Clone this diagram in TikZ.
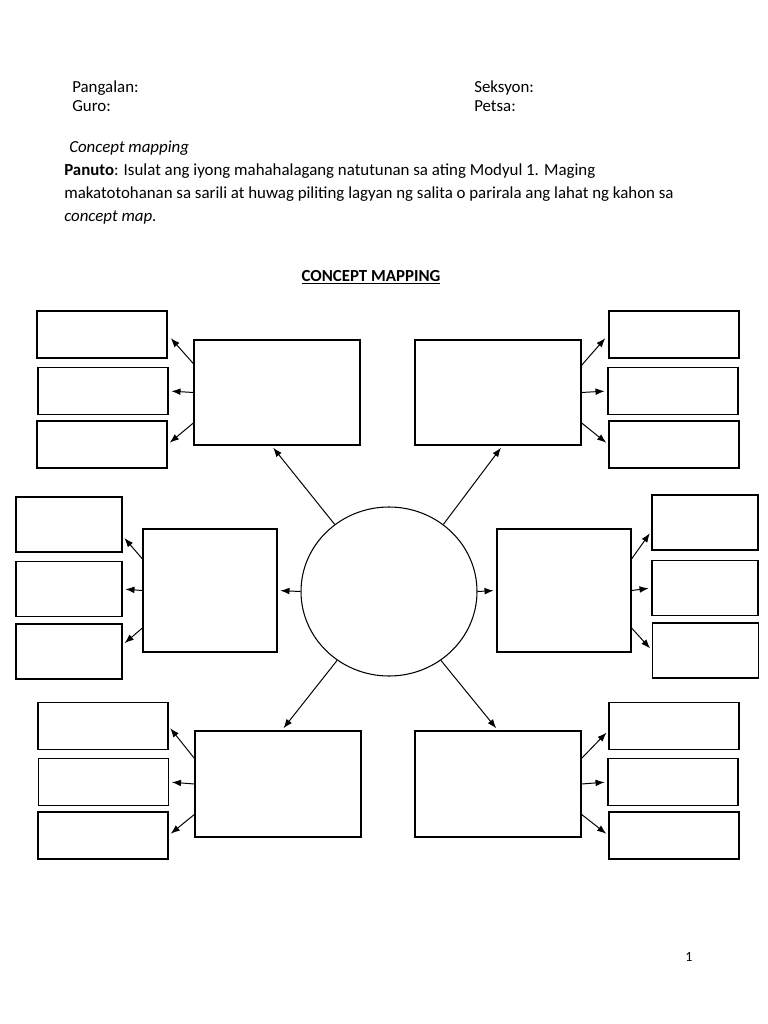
\documentclass[tikz,border=0pt]{standalone}
\usepackage{fontspec}
\setmainfont{Carlito}
\usetikzlibrary{shapes.geometric,arrows.meta}

\begin{document}
\begin{tikzpicture}[x=0.025cm,y=-0.025cm,font=\fontsize{12}{14}\selectfont,
  txt/.style={anchor=base west,inner xsep=0pt},
  box/.style={draw,line width=0.75pt,inner sep=0pt},
  sidebox/.style={box,minimum width=130*0.025cm,minimum height=47*0.025cm},
  midbox/.style={box,minimum width=106*0.025cm,minimum height=55*0.025cm},
  topic/.style={box,minimum width=166*0.025cm,minimum height=105*0.025cm},
  arr/.style={-{Latex[length=6.5pt,width=4.8pt]},line width=0.7pt,shorten >=2pt}]
  \useasboundingbox (0,0) rectangle (768,1024);

  % header
  \node[txt] (name) at (72,93) {Pangalan:};
  \node[txt] (guro) at (72,112) {Guro:};
  \node[txt] (seksyon) at (474,93) {Seksyon:};
  \node[txt] (petsa) at (474,112) {Petsa:};
  \node[txt] (sub) at (69,153) {\itshape Concept mapping};
  \node[txt] (line1) at (64,176) {\textbf{Panuto}: Isulat ang iyong mahahalagang natutunan sa ating Modyul 1. Maging};
  \node[txt] (line2) at (64,199) {makatotohanan sa sarili at huwag piliting lagyan ng salita o parirala ang lahat ng kahon sa};
  \node[txt] (line3) at (64,222) {\textit{concept map}.};
  \node[anchor=base] (title) at (371,281) {\textbf{\underline{CONCEPT MAPPING}}};

  % centre
  \node[box,ellipse,minimum width=176*0.025cm,minimum height=169*0.025cm] (O) at (389,591.5) {};

  % main boxes
  \node[topic] (T1) at (277,392.5) {};
  \node[topic] (T2) at (498,392.5) {};
  \node[box,minimum width=134*0.025cm,minimum height=123*0.025cm] (M1) at (210,590.5) {};
  \node[box,minimum width=134*0.025cm,minimum height=123*0.025cm] (M2) at (564,590.5) {};
  \node[topic,minimum height=106*0.025cm] (E) at (278,784) {};
  \node[topic,minimum height=106*0.025cm] (G) at (498,784) {};

  % side boxes
  \node[sidebox] (A1) at (102,334.5) {};
  \node[sidebox] (A2) at (103,391) {};
  \node[sidebox] (A3) at (102,444.5) {};
  \node[sidebox] (B1) at (674,334.5) {};
  \node[sidebox] (B2) at (673,391) {};
  \node[sidebox] (B3) at (674,444.5) {};
  \node[midbox] (C1) at (69,524.5) {};
  \node[midbox] (C2) at (69,589) {};
  \node[midbox] (C3) at (69,651.5) {};
  \node[midbox] (D1) at (705,522.5) {};
  \node[midbox] (D2) at (705,588) {};
  \node[midbox] (D3) at (705.5,650.5) {};
  \node[sidebox] (F1) at (103,726) {};
  \node[sidebox] (F2) at (103.5,782) {};
  \node[sidebox] (F3) at (103,835.5) {};
  \node[sidebox] (H1) at (674,726) {};
  \node[sidebox] (H2) at (673,782) {};
  \node[sidebox] (H3) at (674,835.5) {};

  % arrows from the centre
  \draw[arr] (O.129) -- (T1.264);
  \draw[arr] (O.51) -- (T2.275);
  \draw[arr] (O.west) -- (M1.east);
  \draw[arr] (O.east) -- (M2.west);
  \draw[arr] (O.233) -- (E.86);
  \draw[arr] (O.307) -- (G.north);

  % arrows to the side boxes
  \draw[arr,shorten >=3.5pt] (T1.161) -- (A1.east);
  \draw[arr] (T1.west) -- (A2.east);
  \draw[arr] (T1.200) -- (A3.east);
  \draw[arr,shorten >=3.5pt] (T2.18) -- (B1.west);
  \draw[arr] (T2.east) -- (B2.west);
  \draw[arr] (T2.340) -- (B3.west);
  \draw[arr] (M1.155) -- (C1.348);
  \draw[arr] (M1.west) -- (C2.east);
  \draw[arr] (M1.209) -- (C3.7);
  \draw[arr] (M2.25) -- (D1.189);
  \draw[arr] (M2.east) -- (D2.west);
  \draw[arr] (M2.331) -- (D3.west);
  \draw[arr] (E.163) -- (F1.east);
  \draw[arr] (E.west) -- (F2.east);
  \draw[arr] (E.200) -- (F3.east);
  \draw[arr] (G.17) -- (H1.184);
  \draw[arr] (G.east) -- (H2.west);
  \draw[arr] (G.340) -- (H3.west);

  % page number
  \node[anchor=base,font=\fontsize{10}{12}\selectfont] (page) at (689,961) {1};
\end{tikzpicture}
\end{document}
